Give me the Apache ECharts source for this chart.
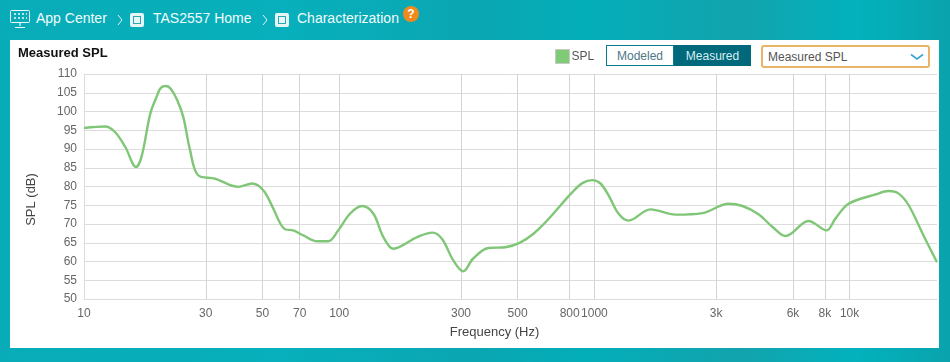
<!DOCTYPE html>
<html>
<head>
<meta charset="utf-8">
<script src="https://cdn.jsdelivr.net/npm/echarts@6/dist/echarts.min.js"></script>
<style>
html, body { margin: 0; padding: 0; }
body {
    width: 950px; height: 362px; overflow: hidden; position: relative;
    font-family: "Liberation Sans", Arial, sans-serif;
    background: linear-gradient(90deg, #08acb8 0%, #07b0bc 30%, #0aa6b2 50%, #03aeb9 62%, #12a3ad 78%, #02b2bd 90%, #0aa3ad 100%);
}
.abs { position: absolute; }
.crumb { color: #f2fbfc; font-size: 14px; line-height: 18px; top: 9px; white-space: nowrap; }
.chev { top: 14px; }
.sq { top: 13px; width: 14px; height: 14px; background: #e6f6f7; border-radius: 2px; }
.sq i { position: absolute; left: 3px; top: 3px; width: 6px; height: 6px; border: 1px solid #2aa9b4; background: #e6f6f7; }
#help { left: 403px; top: 6px; width: 16px; height: 16px; border-radius: 50%; background: #f08a1d; color: #fff; font-size: 12px; font-weight: bold; line-height: 16px; text-align: center; }
#panel { left: 10px; top: 40px; width: 929px; height: 308px; background: #fff; }
#main { left: 10px; top: 40px; width: 929px; height: 308px; }
#toggle { left: 606px; top: 45px; width: 145px; height: 21px; display: flex; font-size: 12px; line-height: 20px; text-align: center; box-sizing: border-box; }
#toggle div { box-sizing: border-box; height: 21px; }
#modeled { width: 68px; border: 1px solid #0d7a8c; color: #4d7688; background: #fff; }
#measured { width: 77px; background: #00697c; color: #d9eef1; border: 1px solid #00697c; }
#select { left: 761px; top: 45px; width: 169px; height: 23px; box-sizing: border-box; border: 2px solid #e9b467; border-radius: 3px; color: #555; font-size: 12px; line-height: 20px; padding-left: 5px; background: #fff; }
</style>
</head>
<body>
<svg class="abs" style="left:9px;top:9px" width="22" height="20" viewBox="0 0 22 20">
    <rect x="1.5" y="1.5" width="19" height="12" rx="1" fill="none" stroke="#eefafa" stroke-width="1"/>
    <path d="M5 5h2M9 5h2M13 5h2M17 5h1M5 9h2M9 9h2M13 9h2M17 9h1" stroke="#eefafa" stroke-width="1.6"/>
    <path d="M11 14v3M6 18.5h10" stroke="#eefafa" stroke-width="1.2"/>
</svg>
<div class="abs crumb" style="left:36px">App Center</div>
<svg class="abs chev" style="left:117px" width="7" height="12"><path d="M1 1l4 5-4 5" fill="none" stroke="#dff4f6" stroke-width="1"/></svg>
<div class="abs sq" style="left:130px"><i></i></div>
<div class="abs crumb" style="left:153px">TAS2557 Home</div>
<svg class="abs chev" style="left:262px" width="7" height="12"><path d="M1 1l4 5-4 5" fill="none" stroke="#dff4f6" stroke-width="1"/></svg>
<div class="abs sq" style="left:275px"><i></i></div>
<div class="abs crumb" style="left:297px">Characterization</div>
<div class="abs" id="help">?</div>

<div class="abs" id="panel"></div>
<div class="abs" id="main"></div>

<div class="abs" id="toggle"><div id="modeled">Modeled</div><div id="measured">Measured</div></div>
<div class="abs" id="select">Measured SPL
    <svg class="abs" style="right:4px;top:6px" width="14" height="8"><path d="M1 1.5l6 4.5 6-4.5" fill="none" stroke="#3aa5d8" stroke-width="1.6"/></svg>
</div>

<script>
// freq in Hz, spl in dB
var freq = [10, 12.1, 13.2, 14.5, 16, 16.8, 18.2, 19.3, 20, 21, 21.9, 23.2, 24.5, 26, 28, 32.6, 40.2, 45.6, 50.4, 55.1, 58.7, 61.4,
    66, 72.2, 82, 90.5, 99.1, 110.4, 123, 136, 149, 163, 202, 232, 253, 280, 306, 335,
    384, 448, 577, 820, 897, 982, 1056, 1135, 1242, 1360, 1658, 2078, 2651, 3354, 3805, 4396, 4989, 5610, 6905, 8124, 8811, 9910, 12647, 14223, 15570, 17040, 19330, 22000];
var spl = [95.6, 96, 94.6, 90.6, 85.2, 87.9, 99.5, 104.1, 106.3, 106.8, 106, 103, 98.5, 89.9, 83, 82.1, 79.9, 80.8, 79, 74.2, 70.2, 68.6,
    68.3, 67, 65.4, 65.4, 68.3, 72.8, 74.8, 72.8, 66.5, 63.4, 66.5, 67.7, 66, 60.3, 57.4, 60.8,
    63.6, 63.8, 67.4, 78.5, 80.9, 81.7, 80.8, 77.7, 72.8, 70.9, 73.9, 72.5, 72.9, 75.4, 74.8, 72.6, 69.2, 66.8, 70.8, 68.3, 71.5, 75.4, 77.9, 78.8, 78.1, 75, 67.4, 59.8];
var xTicks = [10, 30, 50, 70, 100, 300, 500, 800, 1000, 3000, 6000, 8000, 10000];

var chart = echarts.init(document.getElementById('main'));
var option = {
    animation: false,
    textStyle: { fontFamily: '"Liberation Sans", Arial, sans-serif' },
    title: {
        text: 'Measured SPL',
        left: 8,
        top: 7,
        padding: 0,
        textStyle: { fontSize: 13, fontWeight: 'bold', color: '#111' }
    },
    legend: {
        left: 545,
        top: 9,
        padding: 0,
        itemWidth: 14,
        itemHeight: 14,
        itemGap: 4,
        icon: 'rect',
        textStyle: { fontSize: 12, color: '#555', padding: [1, 0, 0, -3] },
        itemStyle: { color: '#7fcb76', borderColor: '#c8c8c8', borderWidth: 1 },
        data: ['SPL']
    },
    grid: { left: 74, right: 2, top: 34, bottom: 49 },
    xAxis: {
        type: 'log',
        min: 10,
        max: 22000,
        name: 'Frequency (Hz)',
        nameLocation: 'middle',
        nameGap: 27,
        nameTextStyle: { fontSize: 13, color: '#444', padding: [0, 32, 0, 0] },
        axisLine: { show: true, lineStyle: { color: '#dcdcdc' } },
        axisTick: { show: false, customValues: xTicks },
        minorTick: { show: false },
        axisLabel: {
            customValues: xTicks,
            fontSize: 12,
            color: '#666',
            margin: 9,
            formatter: function (v) { return v >= 3000 ? (v / 1000) + 'k' : '' + v; }
        },
        splitLine: { show: true, lineStyle: { color: '#d4d4d4' } }
    },
    yAxis: {
        type: 'value',
        min: 50,
        max: 110,
        interval: 5,
        name: 'SPL (dB)',
        nameLocation: 'middle',
        nameGap: 46,
        nameTextStyle: { fontSize: 13, color: '#444', padding: [0, 0, 0, -26] },
        axisLine: { show: true, lineStyle: { color: '#dcdcdc' } },
        axisTick: { show: false },
        axisLabel: { fontSize: 12, color: '#666', margin: 7 },
        splitLine: { show: true, lineStyle: { color: '#dcdcdc' } }
    },
    series: [
        {
            name: 'SPL',
            type: 'line',
            smooth: 0.35,
            symbol: 'none',
            lineStyle: { color: '#7fc677', width: 2.4 },
            itemStyle: { color: '#7fcb76' },
            data: freq.map(function (f, i) { return [f, spl[i]]; })
        }
    ]
};
chart.setOption(option);
</script>
</body>
</html>
